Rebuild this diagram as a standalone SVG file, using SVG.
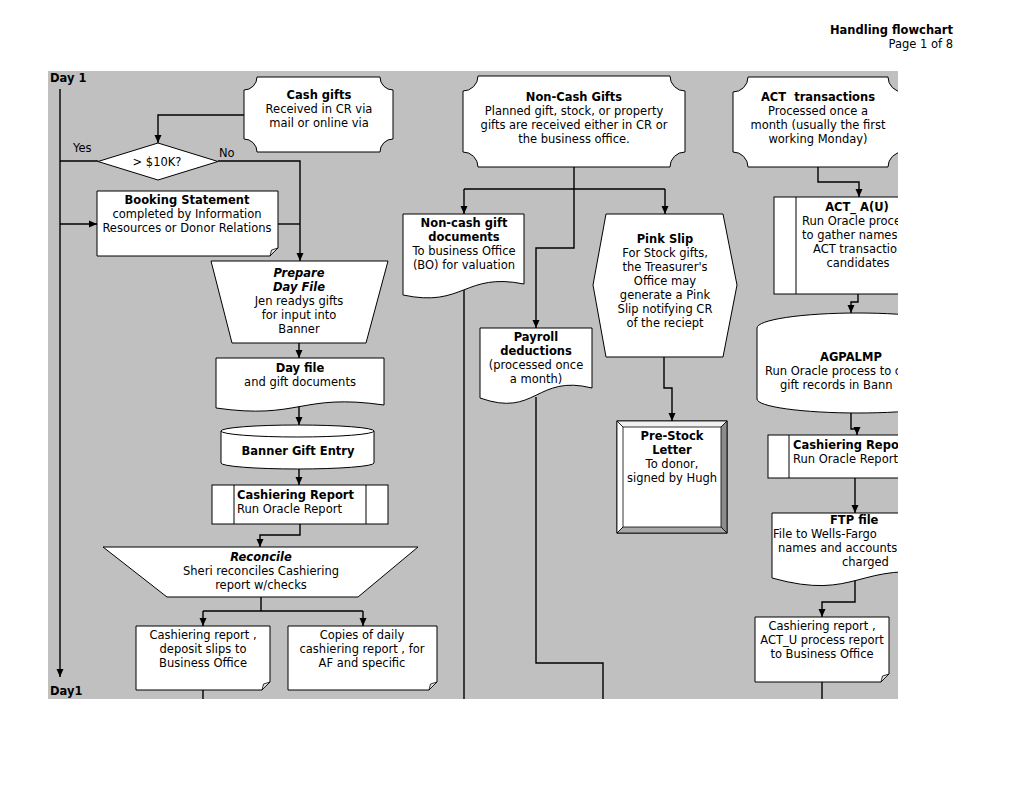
<svg xmlns="http://www.w3.org/2000/svg" width="1023" height="791" viewBox="0 0 1023 791">
<defs>
<style>
.s{fill:#fff;stroke:#000;stroke-width:1}
.cn{fill:none;stroke:#000;stroke-width:1.4}
.ar{marker-end:url(#ah)}
text{font-family:"DejaVu Sans",Verdana,"Liberation Sans",sans-serif;font-size:11.5px;fill:#000}
.c{text-anchor:middle}
.e{text-anchor:end}
.b{font-weight:bold}
.bi{font-weight:bold;font-style:italic}
.fold{fill:#e0e0e0;stroke:#000;stroke-width:0.8}
</style>
<marker id="ah" markerUnits="userSpaceOnUse" markerWidth="9" markerHeight="8" refX="8" refY="4" orient="auto">
<path d="M0,0.5 L8,4 L0,7.5 Z" fill="#000"/>
</marker>
<clipPath id="area"><rect x="48" y="71" width="850" height="628"/></clipPath>
</defs>
<rect width="1023" height="791" fill="#fff"/>
<g id="header">
<text class="e b" x="953" y="34">Handling flowchart</text>
<text class="e" x="953" y="48">Page 1 of 8</text>
</g>
<g clip-path="url(#area)">
<rect x="48" y="71" width="850" height="628" fill="#c0c0c0"/>
<g id="labels">
<text class="b" x="50" y="82">Day 1</text>
<text class="b" x="50" y="695">Day1</text>
<text x="73" y="152">Yes</text>
<text x="219" y="157">No</text>
</g>
<g id="connectors">
<path class="cn ar" d="M60,89 V677"/>
<path class="cn ar" d="M244,115 H158 V143"/>
<path class="cn" d="M98,161 H60"/>
<path class="cn ar" d="M218,161 H300 V261"/>
<path class="cn ar" d="M60,224 H97"/>
<path class="cn" d="M278,224 H300"/>
<path class="cn ar" d="M299,343 V358"/>
<path class="cn ar" d="M299,406 V425"/>
<path class="cn ar" d="M299,469 V485"/>
<path class="cn ar" d="M300,524 V535 H260 V547"/>
<path class="cn" d="M261,597 V611 M203,611 H363"/>
<path class="cn ar" d="M203,611 V626"/>
<path class="cn ar" d="M363,611 V626"/>
<path class="cn" d="M203,690 V699"/>
<path class="cn" d="M574,167 V189 M464,189 H665"/>
<path class="cn ar" d="M464,189 V214"/>
<path class="cn ar" d="M665,189 V214"/>
<path class="cn ar" d="M574,189 V248 H536 V328"/>
<path class="cn" d="M464,290 V699"/>
<path class="cn" d="M536,397 V663 H603 V699"/>
<path class="cn ar" d="M664,357 V388 H672 V421"/>
<path class="cn ar" d="M818,167 V182 H859 V197"/>
<path class="cn ar" d="M858,294 V302 H851 V313"/>
<path class="cn ar" d="M851,413 V429 H857 V435"/>
<path class="cn ar" d="M855,478 V513"/>
<path class="cn ar" d="M855,580 V602 H822 V617"/>
<path class="cn" d="M822,682 V699"/>
</g>
<g id="cash-gifts">
<path class="s" d="M257,77 H380 A13,13 0 0 0 393,90 V139 A13,13 0 0 0 380,152 H257 A13,13 0 0 0 244,139 V90 A13,13 0 0 0 257,77 Z"/>
<text class="c b" x="319" y="99">Cash gifts</text>
<text class="c" x="319" y="113">Received in CR via</text>
<text class="c" x="319" y="127">mail or online via</text>
</g>
<g id="decision">
<polygon class="s" points="158,143 218,161.5 158,180 98,161.5"/>
<text class="c" x="157" y="166">&gt; $10K?</text>
</g>
<g id="booking-statement">
<path class="s" d="M97,191 H278 V248 L270,256 H97 Z"/>
<path class="fold" d="M270,256 L271.5,250 L278,248 Z"/>
<text class="c b" x="187" y="204">Booking Statement</text>
<text class="c" x="187" y="218">completed by Information</text>
<text class="c" x="187" y="232">Resources or Donor Relations</text>
</g>
<g id="prepare-day-file">
<polygon class="s" points="211,261 388,261 366,343 232,343"/>
<text class="c bi" x="299" y="277">Prepare</text>
<text class="c bi" x="299" y="291">Day File</text>
<text class="c" x="299" y="305">Jen readys gifts</text>
<text class="c" x="299" y="319">for input into</text>
<text class="c" x="299" y="333">Banner</text>
</g>
<g id="day-file">
<path class="s" d="M216,358 H384 V405 C300,393 300,420 216,408 Z"/>
<text class="c b" x="300" y="372">Day file</text>
<text class="c" x="300" y="386">and gift documents</text>
</g>
<g id="banner-gift-entry">
<path class="s" d="M221,431 A76.5,6 0 0 1 374,431 V463 A76.5,6 0 0 1 221,463 Z"/>
<path class="s" d="M221,431 A76.5,6 0 0 0 374,431" fill="none"/>
<text class="c b" x="298" y="455">Banner Gift Entry</text>
</g>
<g id="cashiering-report-1">
<rect class="s" x="212" y="485" width="176" height="39"/>
<path class="s" d="M234,485 V524 M366,485 V524"/>
<text class="b" x="237" y="499">Cashiering Report</text>
<text x="237" y="513">Run Oracle Report</text>
</g>
<g id="reconcile">
<polygon class="s" points="103,547 418,547 358,597 167,597"/>
<text class="c bi" x="261" y="561">Reconcile</text>
<text class="c" x="261" y="575">Sheri reconciles Cashiering</text>
<text class="c" x="261" y="589">report w/checks</text>
</g>
<g id="deposit-slips">
<path class="s" d="M136,626 H270 V682 L262,690 H136 Z"/>
<path class="fold" d="M262,690 L263.5,684 L270,682 Z"/>
<text class="c" x="203" y="639">Cashiering report ,</text>
<text class="c" x="203" y="653">deposit slips to</text>
<text class="c" x="203" y="667">Business Office</text>
</g>
<g id="daily-copies">
<path class="s" d="M288,626 H437 V682 L429,690 H288 Z"/>
<path class="fold" d="M429,690 L430.5,684 L437,682 Z"/>
<text class="c" x="362" y="639">Copies of daily</text>
<text class="c" x="362" y="653">cashiering report , for</text>
<text class="c" x="362" y="667">AF and specific</text>
</g>
<g id="non-cash-gifts">
<path class="s" d="M478,76 H670 A15,15 0 0 0 685,91 V152 A15,15 0 0 0 670,167 H478 A15,15 0 0 0 463,152 V91 A15,15 0 0 0 478,76 Z"/>
<text class="c b" x="574" y="101">Non-Cash Gifts</text>
<text class="c" x="574" y="115">Planned gift, stock, or property</text>
<text class="c" x="574" y="129">gifts are received either in CR or</text>
<text class="c" x="574" y="143">the business office.</text>
</g>
<g id="non-cash-documents">
<path class="s" d="M403,214 H524 V284 C464,272 464,308 403,295 Z"/>
<text class="c b" x="464" y="227">Non-cash gift</text>
<text class="c b" x="464" y="241">documents</text>
<text class="c" x="464" y="255">To business Office</text>
<text class="c" x="464" y="269">(BO) for valuation</text>
</g>
<g id="payroll">
<path class="s" d="M480,328 H592 V388 C536,374 536,418 480,398 Z"/>
<text class="c b" x="536" y="341">Payroll</text>
<text class="c b" x="536" y="355">deductions</text>
<text class="c" x="536" y="369">(processed once</text>
<text class="c" x="536" y="383">a month)</text>
</g>
<g id="pink-slip">
<polygon class="s" points="606,214 723,214 737,285 723,357 606,357 593,285"/>
<text class="c b" x="665" y="243">Pink Slip</text>
<text class="c" x="665" y="257">For Stock gifts,</text>
<text class="c" x="665" y="271">the Treasurer's</text>
<text class="c" x="665" y="285">Office may</text>
<text class="c" x="665" y="299">generate a Pink</text>
<text class="c" x="665" y="313">Slip notifying CR</text>
<text class="c" x="665" y="327">of the reciept</text>
</g>
<g id="pre-stock-letter">
<rect class="s" x="617" y="421" width="110" height="112"/>
<polygon points="617,421 727,421 721,427 623,427" fill="#f0f0f0" stroke="#000" stroke-width="0.8"/>
<polygon points="617,421 623,427 623,527 617,533" fill="#fff" stroke="#000" stroke-width="0.8"/>
<polygon points="727,421 727,533 721,527 721,427" fill="#8c8c8c" stroke="#000" stroke-width="0.8"/>
<polygon points="617,533 623,527 721,527 727,533" fill="#a8a8a8" stroke="#000" stroke-width="0.8"/>
<text class="c b" x="672" y="440">Pre-Stock</text>
<text class="c b" x="672" y="454">Letter</text>
<text class="c" x="672" y="468">To donor,</text>
<text class="c" x="672" y="482">signed by Hugh</text>
</g>
<g id="act-transactions">
<path class="s" d="M748,77 H888 A15,15 0 0 0 903,92 V152 A15,15 0 0 0 888,167 H748 A15,15 0 0 0 733,152 V92 A15,15 0 0 0 748,77 Z"/>
<text class="c b" x="818" y="101" xml:space="preserve">ACT  transactions</text>
<text class="c" x="818" y="115">Processed once a</text>
<text class="c" x="818" y="129">month (usually the first</text>
<text class="c" x="818" y="143">working Monday)</text>
</g>
<g id="act-a-u">
<rect class="s" x="774" y="197" width="170" height="97"/>
<path class="s" d="M796,197 V294"/>
<text class="c b" x="857" y="211">ACT_ A(U)</text>
<text x="802" y="225">Run Oracle proce</text>
<text x="802" y="239">to gather names</text>
<text x="813" y="253">ACT transactio</text>
<text class="c" x="858" y="267">candidates</text>
</g>
<g id="agpalmp">
<path class="s" d="M757,328 A101,15 0 0 1 959,328 V399 A101,14 0 0 1 757,399 Z"/>
<text class="b" x="820" y="361">AGPALMP</text>
<text x="765" y="375">Run Oracle process to c</text>
<text x="780" y="389">gift records in Bann</text>
</g>
<g id="cashiering-report-2">
<rect class="s" x="768" y="435" width="177" height="43"/>
<path class="s" d="M789,435 V478"/>
<text class="b" x="793" y="449">Cashiering Repo</text>
<text x="793" y="463">Run Oracle Report</text>
</g>
<g id="ftp-file">
<path class="s" d="M772,513 H945 V575 C858,560 858,602 772,578 Z"/>
<text class="b" x="830" y="524">FTP file</text>
<text x="773" y="538">File to Wells-Fargo</text>
<text x="778" y="552">names and accounts</text>
<text x="842" y="566">charged</text>
</g>
<g id="act-u-report">
<path class="s" d="M755,617 H889 V674 L881,682 H755 Z"/>
<path class="fold" d="M881,682 L882.5,676 L889,674 Z"/>
<text class="c" x="822" y="630">Cashiering report ,</text>
<text class="c" x="822" y="644">ACT_U process report</text>
<text class="c" x="822" y="658">to Business Office</text>
</g>
</g>
</svg>
